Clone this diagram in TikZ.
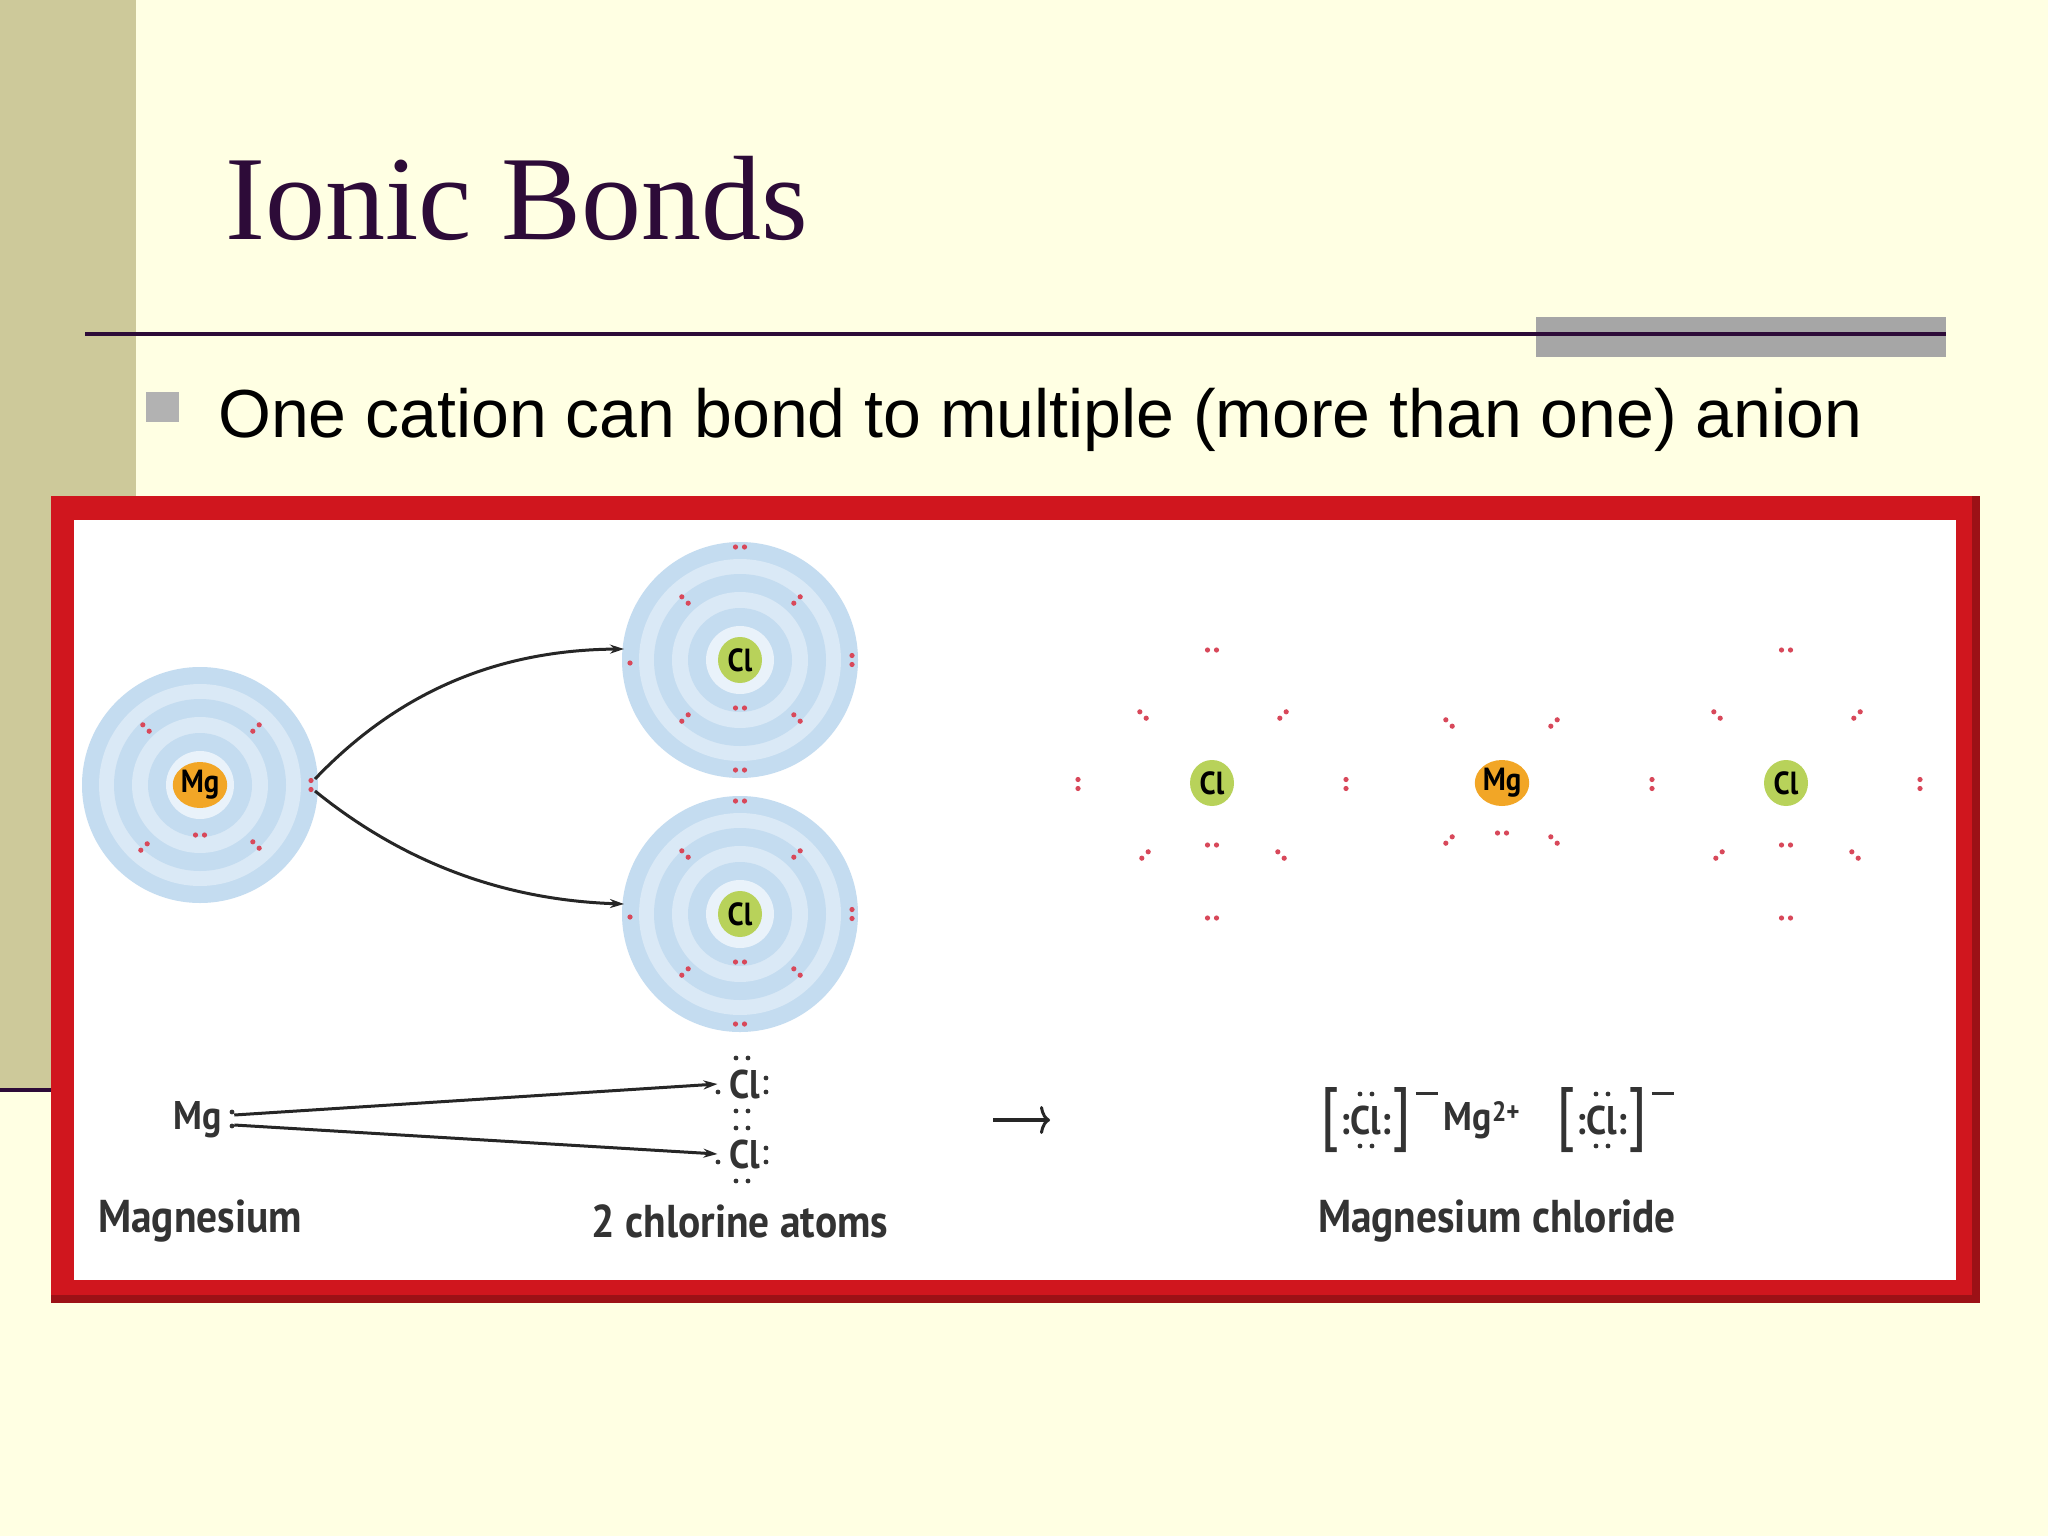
\documentclass[tikz,border=0pt]{standalone}
\usepackage{fontspec}
\usetikzlibrary{arrows.meta,shapes.geometric}
\setmainfont{Liberation Serif}
\newfontfamily\arialf{Liberation Sans}
\newfontfamily\labf[FakeStretch=0.9]{PT Sans}
\definecolor{bgc}{HTML}{FFFFE3}
\definecolor{olive}{HTML}{CDC99A}
\definecolor{titc}{HTML}{2D0B38}
\definecolor{redf}{HTML}{D0161E}
\definecolor{ecol}{HTML}{D8485A}
\definecolor{shA}{HTML}{C4DCF0}
\definecolor{shB}{HTML}{DAE9F6}
\definecolor{clg}{HTML}{B8D25A}
\definecolor{mgo}{HTML}{F2A626}
\newcommand\epr[3]{\fill[ecol,shift={(#1,#2)},rotate=#3] (-4.5,0) circle (2.6pt) (4.5,0) circle (2.6pt);}
\newcommand\eone[2]{\fill[ecol] (#1,#2) circle (2.6pt);}
\newcommand\bdot[2]{\fill[black!80] (#1,#2) circle (2.4pt);}
\newcommand\shells[2]{%
 \fill[shA] (#1,#2) circle (118pt);
 \fill[shB] (#1,#2) circle (101pt);
 \fill[shA] (#1,#2) circle (86pt);
 \fill[shB] (#1,#2) circle (68pt);
 \fill[shA] (#1,#2) circle (52pt);
 \fill[shB!60!white] (#1,#2) circle (34pt);}
\begin{document}
\begin{tikzpicture}[x=1pt,y=-1pt,
  nuc/.style={ellipse,inner sep=0pt,minimum width=44pt,minimum height=46pt,font=\labf\bfseries\fontsize{32}{32}\selectfont},
  arr/.style={-{Stealth[length=14pt,width=9pt]},line width=3pt,black!85},
  lab/.style={font=\labf\bfseries\fontsize{46}{46}\selectfont,text=black!80},
  lew/.style={font=\labf\bfseries\fontsize{40}{40}\selectfont,text=black!80,inner sep=0pt},
  brk/.style={font=\labf\fontsize{70}{70}\selectfont,text=black!80,inner sep=0pt}]
\useasboundingbox (0,0) rectangle (2048,1536);
\fill[bgc] (0,0) rectangle (2048,1536);
\fill[olive] (0,0) rectangle (136,1090);
\draw[titc,line width=4pt] (0,1090) -- (60,1090);
\node[anchor=base west,text=titc,font=\fontsize{120}{120}\selectfont,inner sep=0pt] (title) at (225,239) {Ionic Bonds};
\fill[black!35] (1536,317) rectangle (1946,357);
\draw[titc,line width=4pt] (85,334) -- (1946,334);
\fill[black!30] (146,392) rectangle (179,422);
\node[anchor=base west,font=\arialf\fontsize{68}{68}\selectfont,inner sep=0pt] (bul) at (218,437) {One cation can bond to multiple (more than one) anion};
% frame
\fill[redf!75!black] (51,496) rectangle (1980,1303);
\fill[redf] (51,496) rectangle (1972,1295);
\fill[white] (74,520) rectangle (1956,1280);
% shell atoms
\shells{200}{785}
\shells{740}{660}
\shells{740}{914}
\node[nuc,fill=mgo] (mg1) at (200,785) {Mg};
\node[nuc,fill=clg] (cl1) at (740,660) {Cl};
\node[nuc,fill=clg] (cl2) at (740,914) {Cl};
% Mg electrons
\epr{146}{728}{-45}\epr{256}{728}{45}\epr{144}{847}{45}\epr{256}{845}{-45}\epr{200}{835}{0}\epr{311}{785}{90}
% Cl electrons
\foreach \cy in {660,914}{
 \epr{740}{\cy-113}{0}\epr{852}{\cy}{90}\epr{740}{\cy+110}{0}\eone{630}{\cy+3}
 \epr{685}{\cy-60}{-45}\epr{797}{\cy-60}{45}\epr{685}{\cy+58}{45}\epr{797}{\cy+58}{-45}\epr{740}{\cy+48}{0}}
\coordinate (mgv) at (315,779);
\coordinate (mgw) at (315,791);
\coordinate (clt) at (624,649);
\coordinate (clb) at (624,904);
\draw[arr] (mgv) .. controls (400,690) and (500,650) .. (clt);
\draw[arr] (mgw) .. controls (400,860) and (500,900) .. (clb);
% ionic product
\node[nuc,fill=clg] (cl3) at (1212,783) {Cl};
\node[nuc,fill=mgo] (mg2) at (1502,783) {Mg};
\node[nuc,fill=clg] (cl4) at (1786,783) {Cl};
\foreach \cx in {1212,1786}{
 \epr{\cx}{650}{0}\epr{\cx-134}{784}{90}\epr{\cx+134}{784}{90}\epr{\cx}{918}{0}
 \epr{\cx-69}{715}{-45}\epr{\cx+71}{715}{45}\epr{\cx-67}{855}{45}\epr{\cx+69}{855}{-45}\epr{\cx}{845}{0}}
\epr{1449}{723}{-45}\epr{1554}{723}{45}\epr{1449}{840}{45}\epr{1554}{840}{-45}\epr{1502}{833}{0}
% Lewis
\node[lew] (mgl) at (198,1120) {Mg};
\bdot{232}{1112}\bdot{232}{1126}
\node[lew] (cla) at (745,1084) {Cl};
\node[lew] (clc) at (745,1154) {Cl};
\foreach \cy in {1084,1154}{
 \bdot{736}{\cy-26}\bdot{748}{\cy-26}\bdot{736}{\cy+27}\bdot{748}{\cy+27}
 \bdot{718}{\cy+8}\bdot{766}{\cy-6}\bdot{766}{\cy+8}}
\draw[arr,line width=3pt] ([xshift=12pt,yshift=5pt]mgl.east) -- ([xshift=-12pt]cla.west);
\draw[arr,line width=3pt] ([xshift=12pt,yshift=-5pt]mgl.east) -- ([xshift=-12pt]clc.west);
\coordinate (ya) at (993,1120);
\coordinate (yb) at (1050,1120);
\draw[line width=4pt,black!85,-{To[length=10pt,width=28pt,line width=3pt]}] (ya) -- (yb);
% formula
\node[brk] (b1) at (1330,1120) {[};
\node[lew] (c5) at (1366,1120) {:Cl:};
\node[brk] (b2) at (1402,1120) {]};
\draw[line width=3.5pt,black!80] ([xshift=4pt,yshift=-6pt]b2.north east) -- ++(22,0) coordinate (m5);
\node[lew] (fmg) at (1482,1120) {Mg\textsuperscript{2+}};
\node[brk] (b3) at (1566,1120) {[};
\node[lew] (c6) at (1602,1120) {:Cl:};
\node[brk] (b4) at (1638,1120) {]};
\draw[line width=3.5pt,black!80] ([xshift=4pt,yshift=-6pt]b4.north east) -- ++(22,0) coordinate (m6);
\foreach \cx in {1366,1602}{\bdot{\cx-6}{1094}\bdot{\cx+6}{1094}\bdot{\cx-6}{1146}\bdot{\cx+6}{1146}}
\node[lab] (l1) at (200,1221) {Magnesium};
\node[lab] (l2) at (740,1221) {2 chlorine atoms};
\node[lab] (l3) at (1497,1221) {Magnesium chloride};
\end{tikzpicture}
\end{document}
